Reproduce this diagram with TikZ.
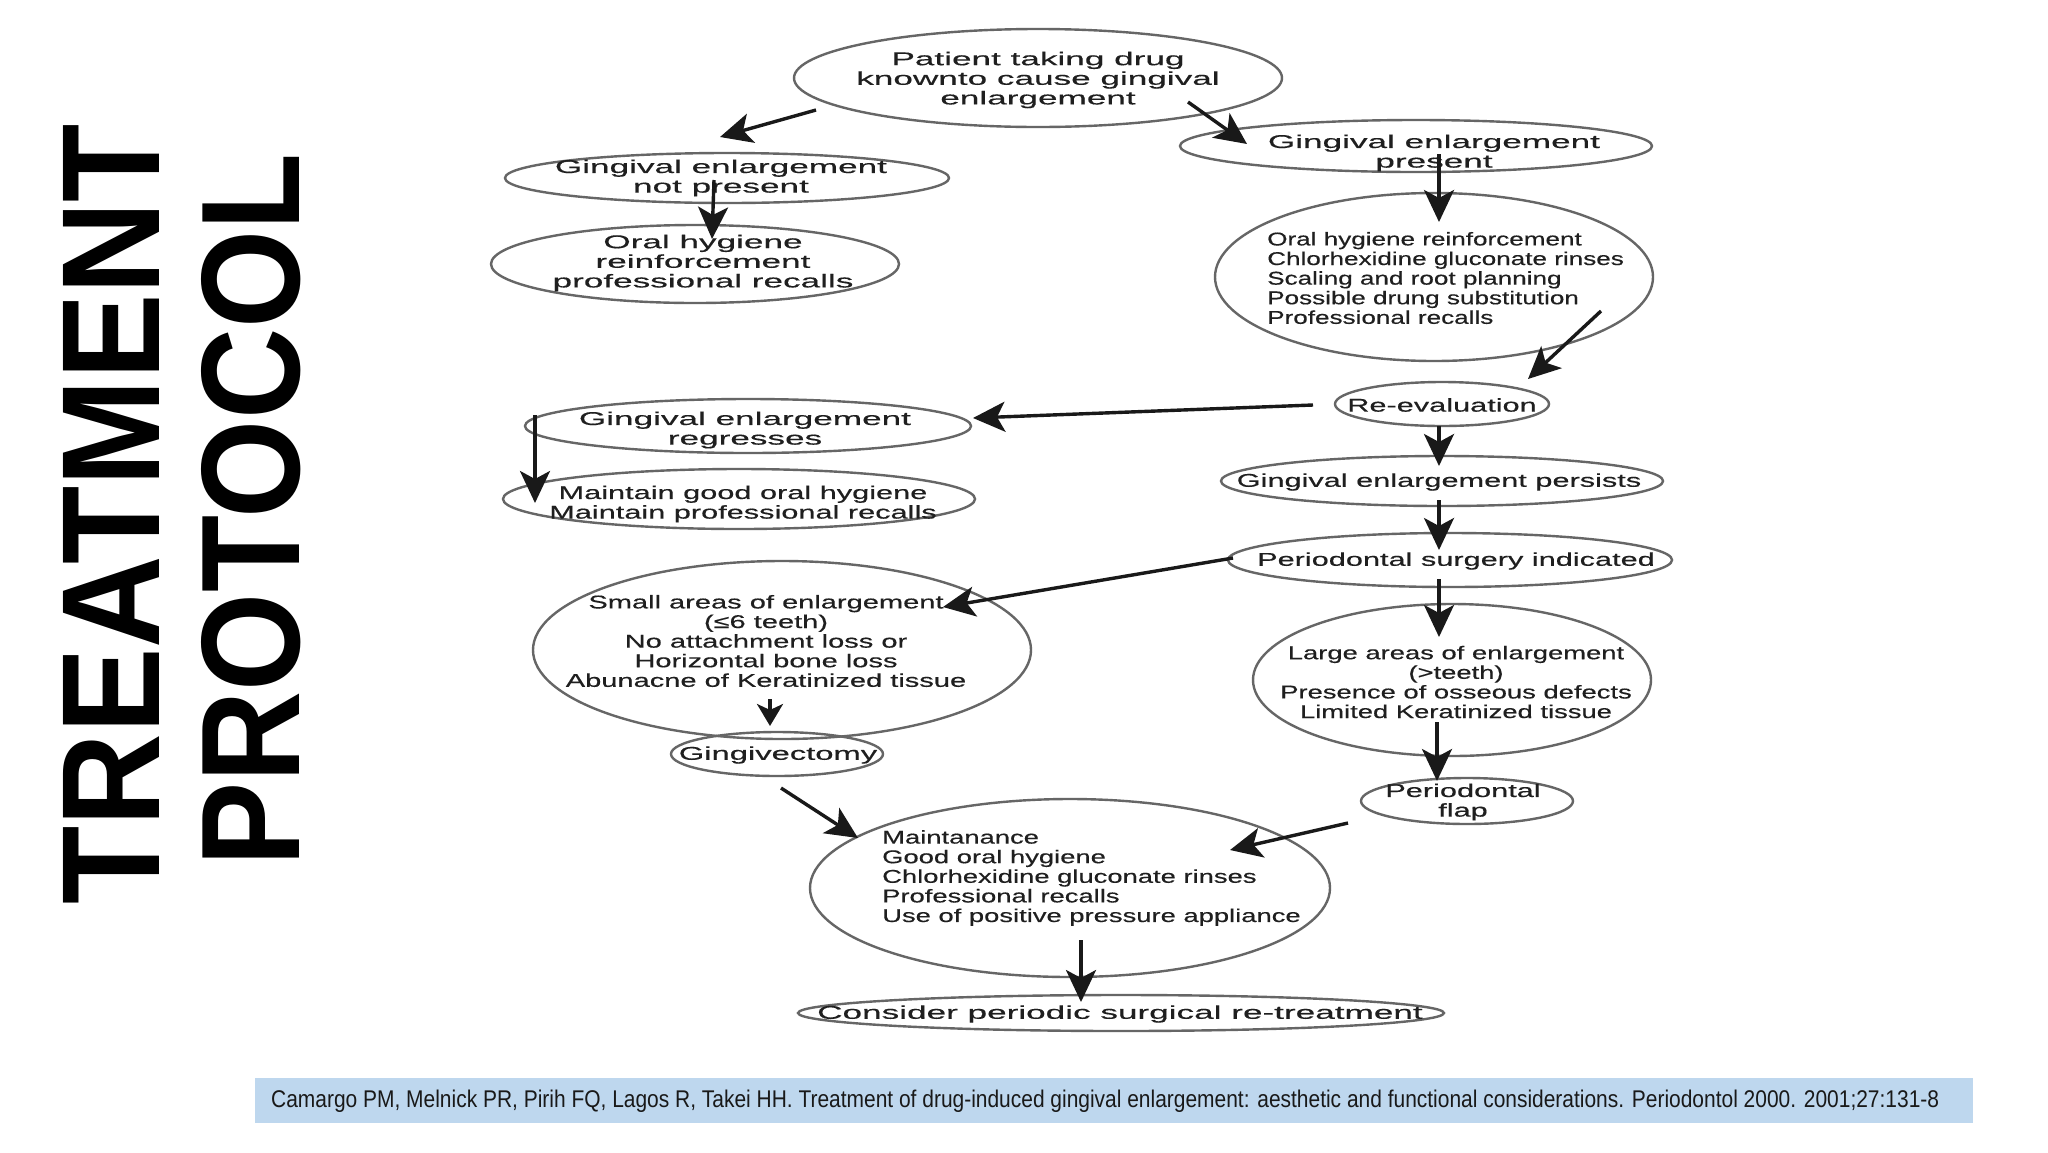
\documentclass[tikz,border=0pt]{standalone}
\usepackage{fontspec}
\setmainfont{Liberation Sans}
\usetikzlibrary{shapes.geometric,arrows.meta,calc}
\newfontfamily\fsa[FakeStretch=1.90,FakeBold=0.4]{Liberation Sans}
\newfontfamily\fsb[FakeStretch=1.66,FakeBold=0.4]{Liberation Sans}
\newfontfamily\fsm[FakeStretch=1.77,FakeBold=0.4]{Liberation Sans}
\newfontfamily\fsk[FakeStretch=1.57,FakeBold=0.4]{Liberation Sans}
\newfontfamily\fsl[FakeStretch=1.48,FakeBold=0.4]{Liberation Sans}
\newfontfamily\fse[FakeStretch=1.41,FakeBold=0.4]{Liberation Sans}
\definecolor{citeblue}{RGB}{190,215,238}
\begin{document}
\begin{tikzpicture}[x=1pt,y=-1pt,
  ell/.style={draw=black!60,line width=2.4pt,ellipse,inner sep=0pt},
  txt/.style={text=black!88,inner sep=0pt},
  ta/.style={txt,align=center,font=\fsa\fontsize{18.5pt}{19.6pt}\selectfont},
  tb/.style={txt,align=center,font=\fsb\fontsize{18.5pt}{19.6pt}\selectfont},
  tm/.style={txt,align=center,font=\fsm\fontsize{18.5pt}{19.6pt}\selectfont},
  tk/.style={txt,align=center,font=\fsk\fontsize{18.5pt}{19.6pt}\selectfont},
  tl/.style={txt,align=center,font=\fsl\fontsize{18.5pt}{19.6pt}\selectfont},
  tlo/.style={txt,align=left,anchor=west,font=\fsl\fontsize{18.5pt}{19.6pt}\selectfont},
  teo/.style={txt,align=left,anchor=west,font=\fse\fontsize{18.5pt}{19.6pt}\selectfont},
  arr/.style={line width=3.4pt,draw=black!90,-{Stealth[length=32pt,width=30pt,inset=8pt]}},
  arrs/.style={line width=3.4pt,draw=black!90,-{Stealth[length=22pt,width=26pt,inset=6pt]}}]
\useasboundingbox[fill=white] (0,0) rectangle (2048,1152);

% title
\node[rotate=90,inner sep=0pt] (t1) at (111,514) {\resizebox{780pt}{96pt}{\bfseries TREATMENT}};
\node[rotate=90,inner sep=0pt] (t2) at (251,510) {\resizebox{712pt}{98pt}{\bfseries PROTOCOL}};

% ellipses
\node[ell,minimum width=488pt,minimum height=98pt] (A) at (1038,78) {};
\node[ell,minimum width=444pt,minimum height=50pt] (B) at (727,178) {};
\node[ell,minimum width=408pt,minimum height=78pt] (C) at (695,264) {};
\node[ell,minimum width=472pt,minimum height=52pt] (D) at (1416,146) {};
\node[ell,minimum width=438pt,minimum height=168pt] (E) at (1434,277) {};
\node[ell,minimum width=214pt,minimum height=44pt] (F) at (1442,404) {};
\node[ell,minimum width=446pt,minimum height=54pt] (G) at (748,426) {};
\node[ell,minimum width=472pt,minimum height=60pt] (H) at (739,499) {};
\node[ell,minimum width=442pt,minimum height=50pt] (I) at (1442,481) {};
\node[ell,minimum width=444pt,minimum height=54pt] (J) at (1450,560) {};
\node[ell,minimum width=498pt,minimum height=178pt] (K) at (782,650) {};
\node[ell,minimum width=398pt,minimum height=152pt] (L) at (1452,680) {};
\node[ell,minimum width=212pt,minimum height=44pt] (M) at (777,754) {};
\node[ell,minimum width=212pt,minimum height=46pt] (N) at (1467,801) {};
\node[ell,minimum width=520pt,minimum height=178pt] (O) at (1070,888) {};
\node[ell,minimum width=646pt,minimum height=36pt] (P) at (1121,1013) {};

% texts
\node[ta] (At) at (1038,80) {Patient taking drug\\knownto cause gingival\\enlargement};
\node[ta] (Bt) at (721,178) {Gingival enlargement\\not present};
\node[ta] (Ct) at (703,263) {Oral hygiene\\reinforcement\\professional recalls};
\node[ta] (Dt) at (1434,153) {Gingival enlargement\\present};
\node[teo] (Et) at (1267,278) {Oral hygiene reinforcement\\Chlorhexidine gluconate rinses\\Scaling and root planning\\Possible drung substitution\\Professional recalls};
\node[tb] (Ft) at (1442,405) {Re-evaluation};
\node[ta] (Gt) at (745,430) {Gingival enlargement\\regresses};
\node[tb] (Ht) at (743,504) {Maintain good oral hygiene\\Maintain professional recalls};
\node[tb] (It) at (1439,482) {Gingival enlargement persists};
\node[tb] (Jt) at (1456,561) {Periodontal surgery indicated};
\node[tk] (Kt) at (766,641) {Small areas of enlargement\\(≤6 teeth)\\No attachment loss or\\Horizontal bone loss\\Abunacne of Keratinized tissue};
\node[tl] (Lt) at (1456,682) {Large areas of enlargement\\(>teeth)\\Presence of osseous defects\\Limited Keratinized tissue};
\node[tm] (Mt) at (778,755) {Gingivectomy};
\node[tb] (Nt) at (1463,802) {Periodontal\\flap};
\node[tlo] (Ot) at (882,878) {Maintanance\\Good oral hygiene\\Chlorhexidine gluconate rinses\\Professional recalls\\Use of positive pressure appliance};
\node[ta] (Pt) at (1120,1014) {Consider periodic surgical re-treatment};

% arrows
\draw[arr] ($(A.center)+(-222,32)$) -- ($(B.center)+(-7,-41)$);
\draw[arr] ($(A.center)+(150,24)$) -- ($(D.center)+(-169,-2)$);
\draw[arr] ($(B.center)+(-13,2)$) -- ($(C.center)+(17,-25)$);
\draw[arr] ($(D.center)+(23,8)$) -- ($(E.center)+(5,-55)$);
\draw[arr] ($(E.center)+(167,34)$) -- ($(F.center)+(86,-25)$);
\draw[arr] ($(F.center)+(-129,1)$) -- ($(G.center)+(225,-8)$);
\draw[arr] ($(G.center)+(-213,-11)$) -- ($(H.center)+(-204,4)$);
\draw[arr] ($(F.center)+(-3,22)$) -- ($(I.center)+(-3,-15)$);
\draw[arr] ($(I.center)+(-3,19)$) -- ($(J.center)+(-11,-10)$);
\draw[arr] ($(J.center)+(-217,-2)$) -- ($(K.center)+(161,-43)$);
\draw[arr] ($(J.center)+(-11,19)$) -- ($(L.center)+(-13,-43)$);
\draw[arrs] ($(K.center)+(-12,49)$) -- ($(M.center)+(-7,-28)$);
\draw[arr] ($(L.center)+(-15,42)$) -- ($(N.center)+(-30,-20)$);
\draw[arr] ($(M.center)+(4,34)$) -- ($(O.center)+(-212,-50)$);
\draw[arr] ($(N.center)+(-119,22)$) -- ($(O.center)+(160,-38)$);
\draw[arr] ($(O.center)+(11,52)$) -- ($(P.center)+(-40,-11)$);

% citation
\node[fill=citeblue,minimum width=1718pt,minimum height=45pt,inner sep=0pt,anchor=north west] (cb) at (255,1078) {};
\node[anchor=west,inner sep=0pt,text=black!90] (ct) at (271,1101) {\resizebox{1668pt}{17.5pt}{Camargo PM, Melnick PR, Pirih FQ, Lagos R, Takei HH. Treatment of drug-induced gingival enlargement: aesthetic and functional considerations. Periodontol 2000. 2001;27:131-8}};
\end{tikzpicture}
\end{document}
